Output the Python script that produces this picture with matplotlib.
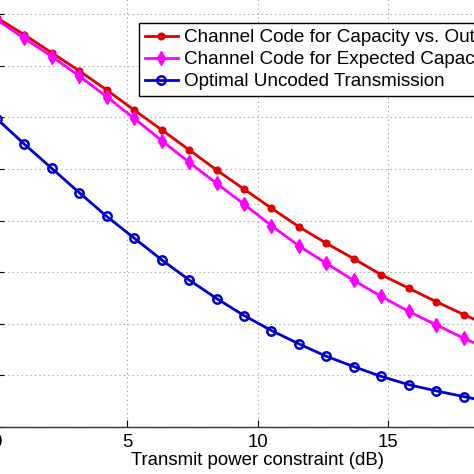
import numpy as np
import matplotlib
matplotlib.use("Agg")
import matplotlib.pyplot as plt

plt.rcParams['font.family'] = ['Liberation Sans', 'DejaVu Sans']

# Transmit power constraint (dB)
power_db = np.linspace(0, 20, 20)

capacity_outage = [7.93, 7.60, 7.25, 6.90, 6.53, 6.14, 5.76, 5.37, 4.98, 4.61,
                   4.24, 3.88, 3.56, 3.26, 2.95, 2.69, 2.43, 2.18, 1.94, 1.71]
expected_capacity = [7.89, 7.53, 7.18, 6.80, 6.40, 5.98, 5.55, 5.13, 4.72, 4.32,
                     3.90, 3.51, 3.17, 2.84, 2.53, 2.24, 1.98, 1.72, 1.49, 1.28]
uncoded = [5.97, 5.48, 5.01, 4.54, 4.08, 3.66, 3.24, 2.85, 2.49, 2.16,
           1.87, 1.61, 1.37, 1.17, 0.98, 0.82, 0.70, 0.59, 0.48, 0.41]

labels = ["Channel Code for Capacity vs. Outage",
          "Channel Code for Expected Capacity",
          "Optimal Uncoded Transmission"]
xticks = [0, 5, 10, 15, 20]
yticks = list(range(0, 10))

W = H = 474
fig = plt.figure(figsize=(W / 100, H / 100), dpi=100)
left_px, right_px = -3.0, 518.5
bottom_px = 427.0
step_px = 51.6
top_px = bottom_px - 9 * step_px
ax = fig.add_axes([left_px / W, 1 - bottom_px / H,
                   (right_px - left_px) / W, (bottom_px - top_px) / H])

ax.plot(power_db, capacity_outage, '-o', color='#e00000', lw=2.0,
        ms=4.8, mfc='#e00000', mec='#e00000', label=labels[0])
ax.plot(power_db, expected_capacity, '-d', color='#ff00ff', lw=2.0,
        ms=7, mfc='#ff00ff', mec='#ff00ff', label=labels[1])
ax.plot(power_db, uncoded, '-o', color='#0000cc', lw=2.0,
        ms=6, mfc='none', mec='#0000cc', mew=1.8, label=labels[2])

ax.set_xlim(0, 20)
ax.set_ylim(0, 9)
ax.set_xticks(xticks)
ax.set_yticks(yticks)
ax.set_yticklabels([])
ax.grid(True, linestyle=(0, (1, 3)), color='#999999', linewidth=0.8)
ax.tick_params(direction='in', length=5, labelsize=13.4, pad=5)
for s in ax.spines.values():
    s.set_linewidth(1.0)
    s.set_color('#333333')
ax.set_xlabel("Transmit power constraint (dB)", fontsize=13.4, labelpad=1)

leg = ax.legend(loc='upper left', bbox_to_anchor=(139.3 / W, 1 - 23.3 / H),
                bbox_transform=fig.transFigure, borderaxespad=0,
                fancybox=False, framealpha=1, edgecolor='black',
                fontsize=13.6, handlelength=1.75, handletextpad=0.3,
                labelspacing=0.26, borderpad=0.3)
leg.get_frame().set_linewidth(1.0)

fig.savefig("out.png", dpi=100)
